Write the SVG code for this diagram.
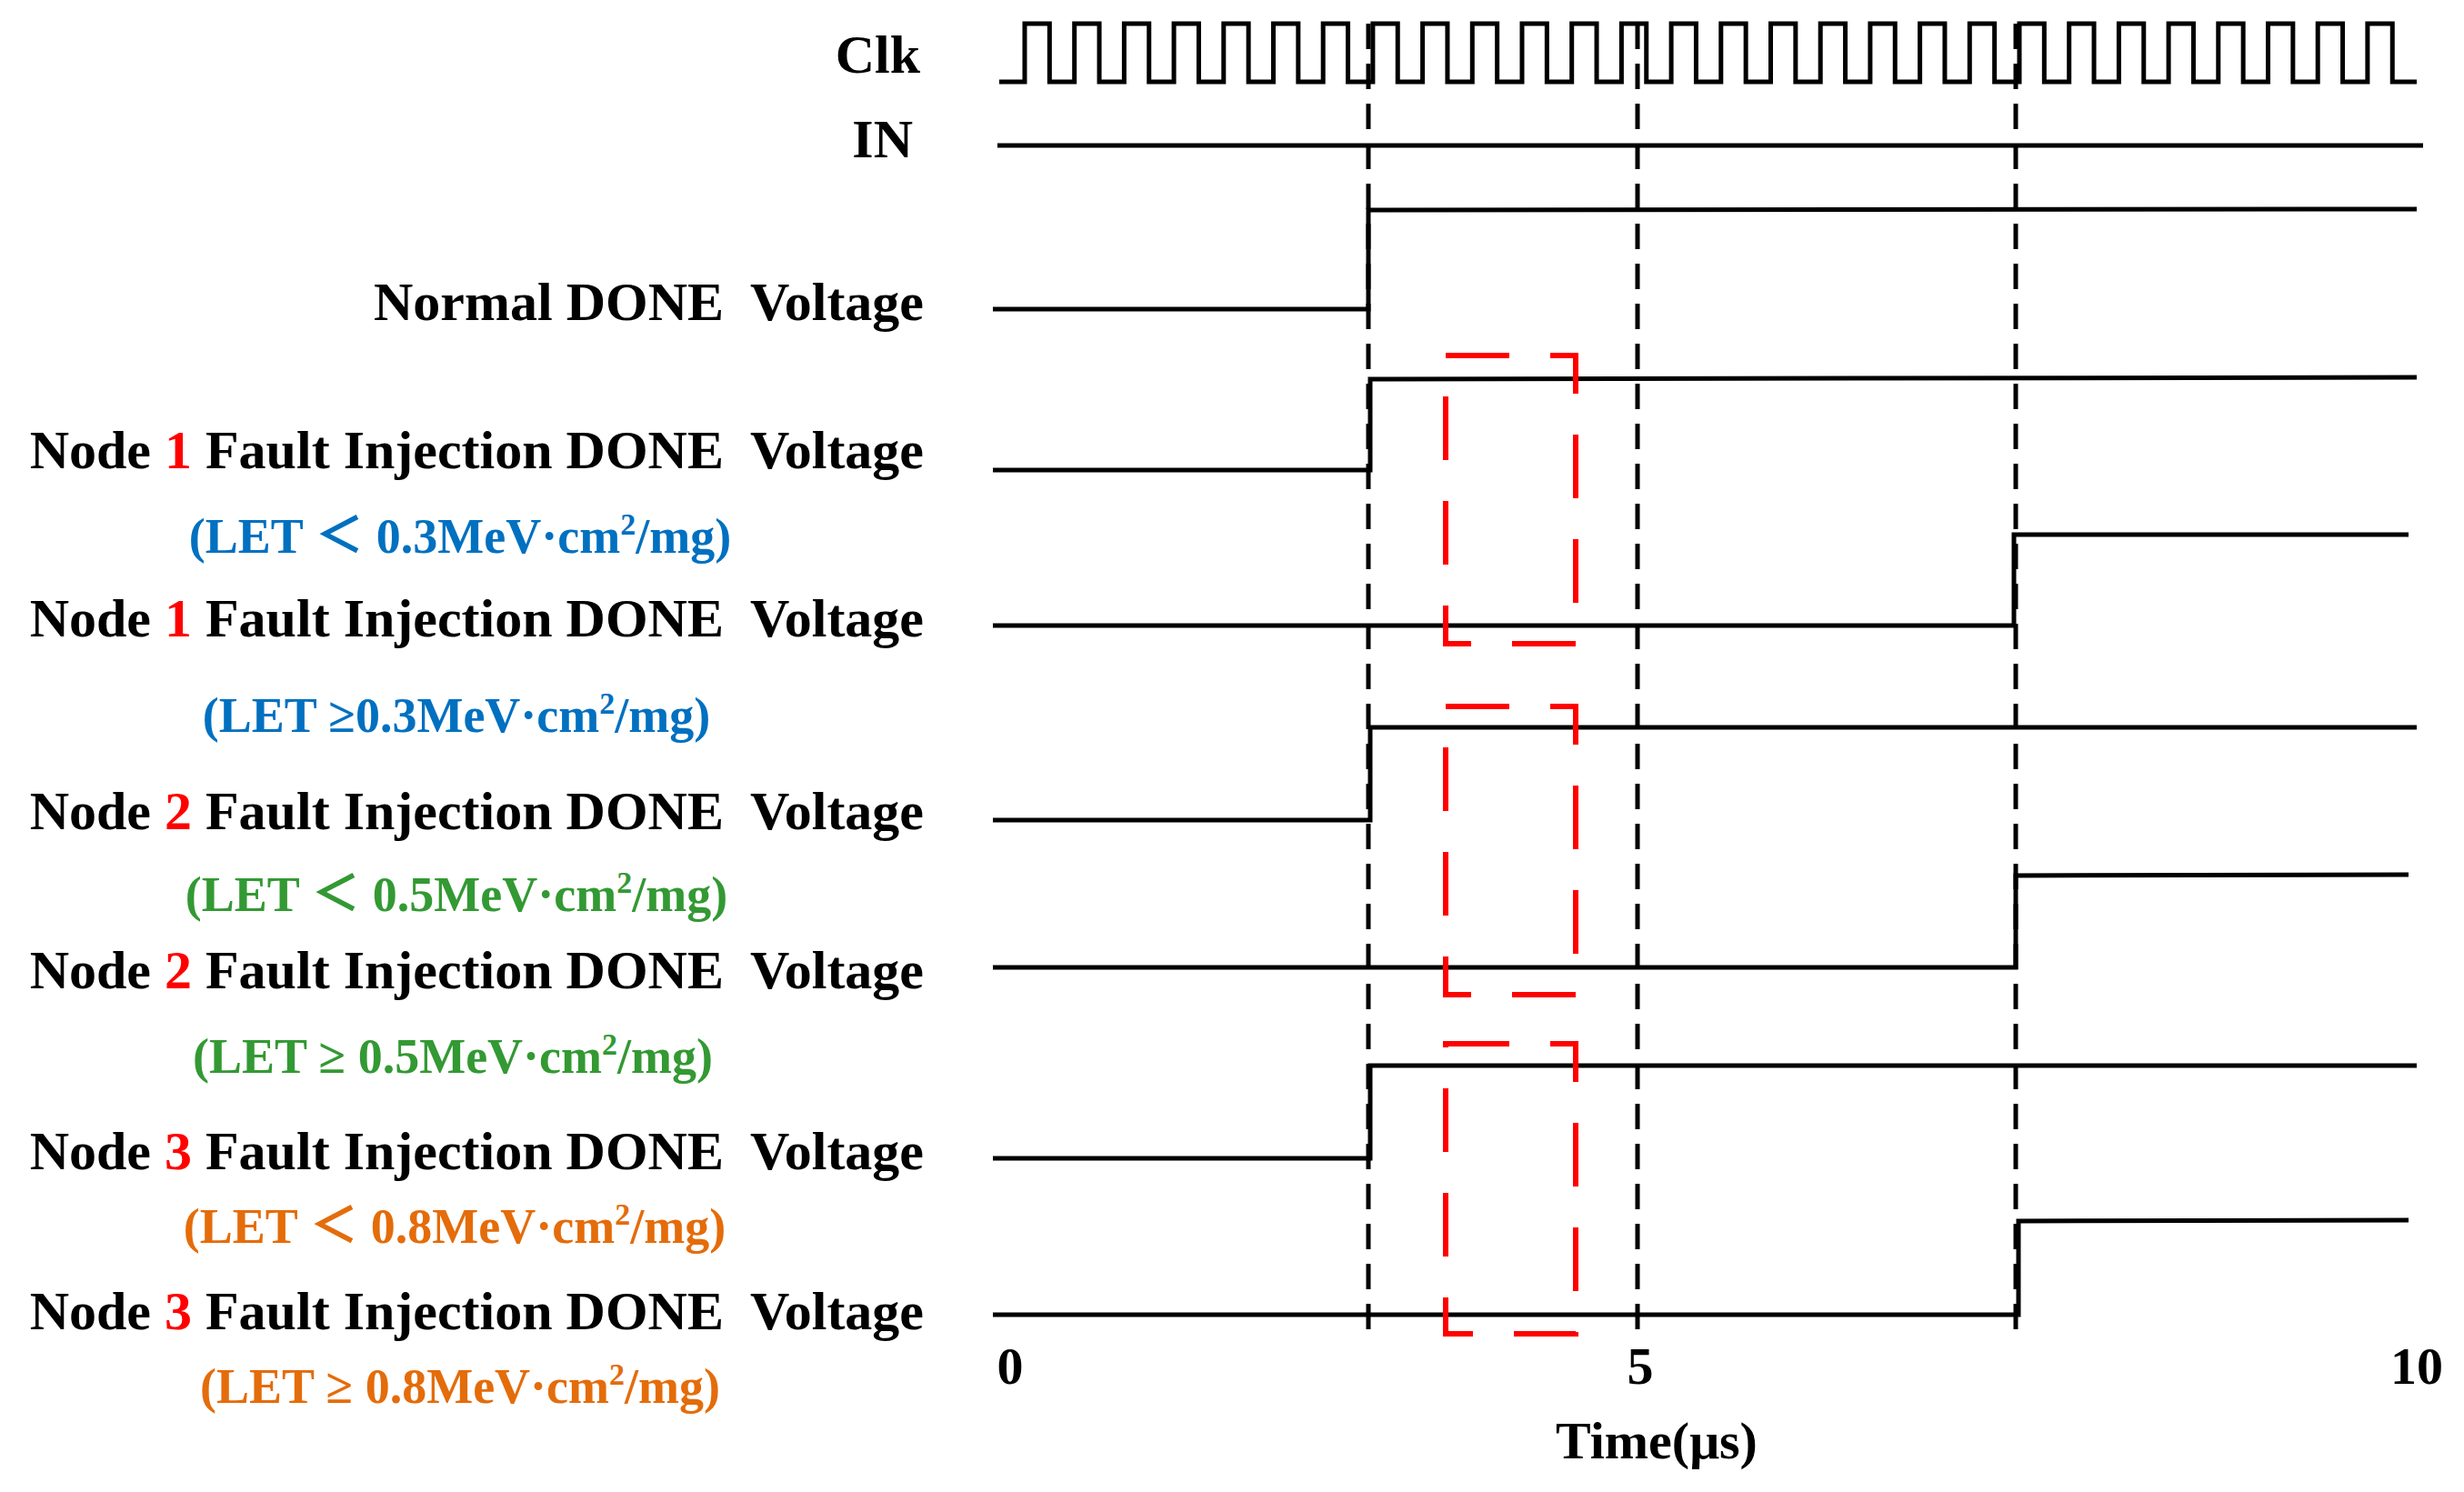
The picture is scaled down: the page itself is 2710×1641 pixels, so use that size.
<svg xmlns="http://www.w3.org/2000/svg" width="2710" height="1641" viewBox="0 0 2710 1641">
<style>
text{font-family:"Liberation Serif","Noto Sans CJK SC",serif;font-weight:bold;white-space:pre}
.lb{font-size:60px;text-anchor:end;fill:#000}
.let{font-size:54px;text-anchor:middle}
.b{fill:#0070C0}.g{fill:#339933}.o{fill:#E46C0A}.r{fill:#FF0000}
.sig{fill:none;stroke:#000;stroke-width:5}
.dv{stroke:#000;stroke-width:5;stroke-dasharray:28,16}
.box{fill:none;stroke:#FF0000;stroke-width:6;stroke-dasharray:70,45}
.ax{font-size:58px;text-anchor:middle}
</style>
<rect width="2710" height="1641" fill="#fff"/>
<g id="labels">
<text class="lb" x="1012" y="80">Clk</text>
<text class="lb" x="1004" y="173">IN</text>
<text class="lb" x="1016" y="352">Normal DONE  Voltage</text>
<text class="lb" x="1016" y="515">Node <tspan class="r">1</tspan> Fault Injection DONE  Voltage</text>
<text class="let b" x="506" y="608">(LET ＜ 0.3MeV·cm<tspan font-size="34" dy="-20">2</tspan><tspan dy="20">/mg)</tspan></text>
<text class="lb" x="1016" y="700">Node <tspan class="r">1</tspan> Fault Injection DONE  Voltage</text>
<text class="let b" x="502" y="805">(LET ≥0.3MeV·cm<tspan font-size="34" dy="-20">2</tspan><tspan dy="20">/mg)</tspan></text>
<text class="lb" x="1016" y="912">Node <tspan class="r">2</tspan> Fault Injection DONE  Voltage</text>
<text class="let g" x="502" y="1002">(LET ＜ 0.5MeV·cm<tspan font-size="34" dy="-20">2</tspan><tspan dy="20">/mg)</tspan></text>
<text class="lb" x="1016" y="1087">Node <tspan class="r">2</tspan> Fault Injection DONE  Voltage</text>
<text class="let g" x="498" y="1180">(LET ≥ 0.5MeV·cm<tspan font-size="34" dy="-20">2</tspan><tspan dy="20">/mg)</tspan></text>
<text class="lb" x="1016" y="1286">Node <tspan class="r">3</tspan> Fault Injection DONE  Voltage</text>
<text class="let o" x="500" y="1367">(LET ＜ 0.8MeV·cm<tspan font-size="34" dy="-20">2</tspan><tspan dy="20">/mg)</tspan></text>
<text class="lb" x="1016" y="1462">Node <tspan class="r">3</tspan> Fault Injection DONE  Voltage</text>
<text class="let o" x="506" y="1543">(LET ≥ 0.8MeV·cm<tspan font-size="34" dy="-20">2</tspan><tspan dy="20">/mg)</tspan></text>
</g>
<g id="signals">
<path class="sig" d="M1099 90 H1127 V26 h27.35v64h27.35v-64 h27.35v64h27.35v-64 h27.35v64h27.35v-64 h27.35v64h27.35v-64 h27.35v64h27.35v-64 h27.35v64h27.35v-64 h27.35v64h27.35v-64 h27.35v64h27.35v-64 h27.35v64h27.35v-64 h27.35v64h27.35v-64 h27.35v64h27.35v-64 h27.35v64h27.35v-64 h27.35v64h27.35v-64 h27.35v64h27.35v-64 h27.35v64h27.35v-64 h27.35v64h27.35v-64 h27.35v64h27.35v-64 h27.35v64h27.35v-64 h27.35v64h27.35v-64 h27.35v64h27.35v-64 h27.35v64h27.35v-64 h27.35v64h27.35v-64 h27.35v64h27.35v-64 h27.35v64h27.35v-64 h27.35v64h27.35v-64 h27.35v64h27.35v-64 h27.35v64h27.35v-64 h27.35v64 H2658"/>
<path class="sig" d="M1097 160 H2665"/>
<path class="sig" d="M1092 340 H1505 V231 L2658 230"/>
<path class="sig" d="M1092 517 H1507 V417 L2658 415"/>
<path class="sig" d="M1092 688 H2215 V588 H2649"/>
<path class="sig" d="M1092 902 H1507 V800 H2658"/>
<path class="sig" d="M1092 1064 H2217 V963 L2649 962"/>
<path class="sig" d="M1092 1274 H1507 V1172 H2658"/>
<path class="sig" d="M1092 1446 H2220 V1343 L2649 1342"/>
</g>
<g id="markers">
<line class="dv" x1="1505" y1="26" x2="1505" y2="1470"/>
<line class="dv" x1="1801" y1="26" x2="1801" y2="1470"/>
<line class="dv" x1="2217" y1="26" x2="2217" y2="1470"/>
<rect class="box" x="1590" y="391" width="143" height="317"/>
<rect class="box" x="1590" y="777" width="143" height="317"/>
<rect class="box" x="1590" y="1148" width="143" height="319"/>
</g>
<g id="axis">
<text class="ax" x="1111" y="1522">0</text>
<text class="ax" x="1804" y="1522">5</text>
<text class="ax" x="2658" y="1522">10</text>
<text class="ax" x="1822" y="1604" font-size="96">Time(μs)</text>
</g>
</svg>
